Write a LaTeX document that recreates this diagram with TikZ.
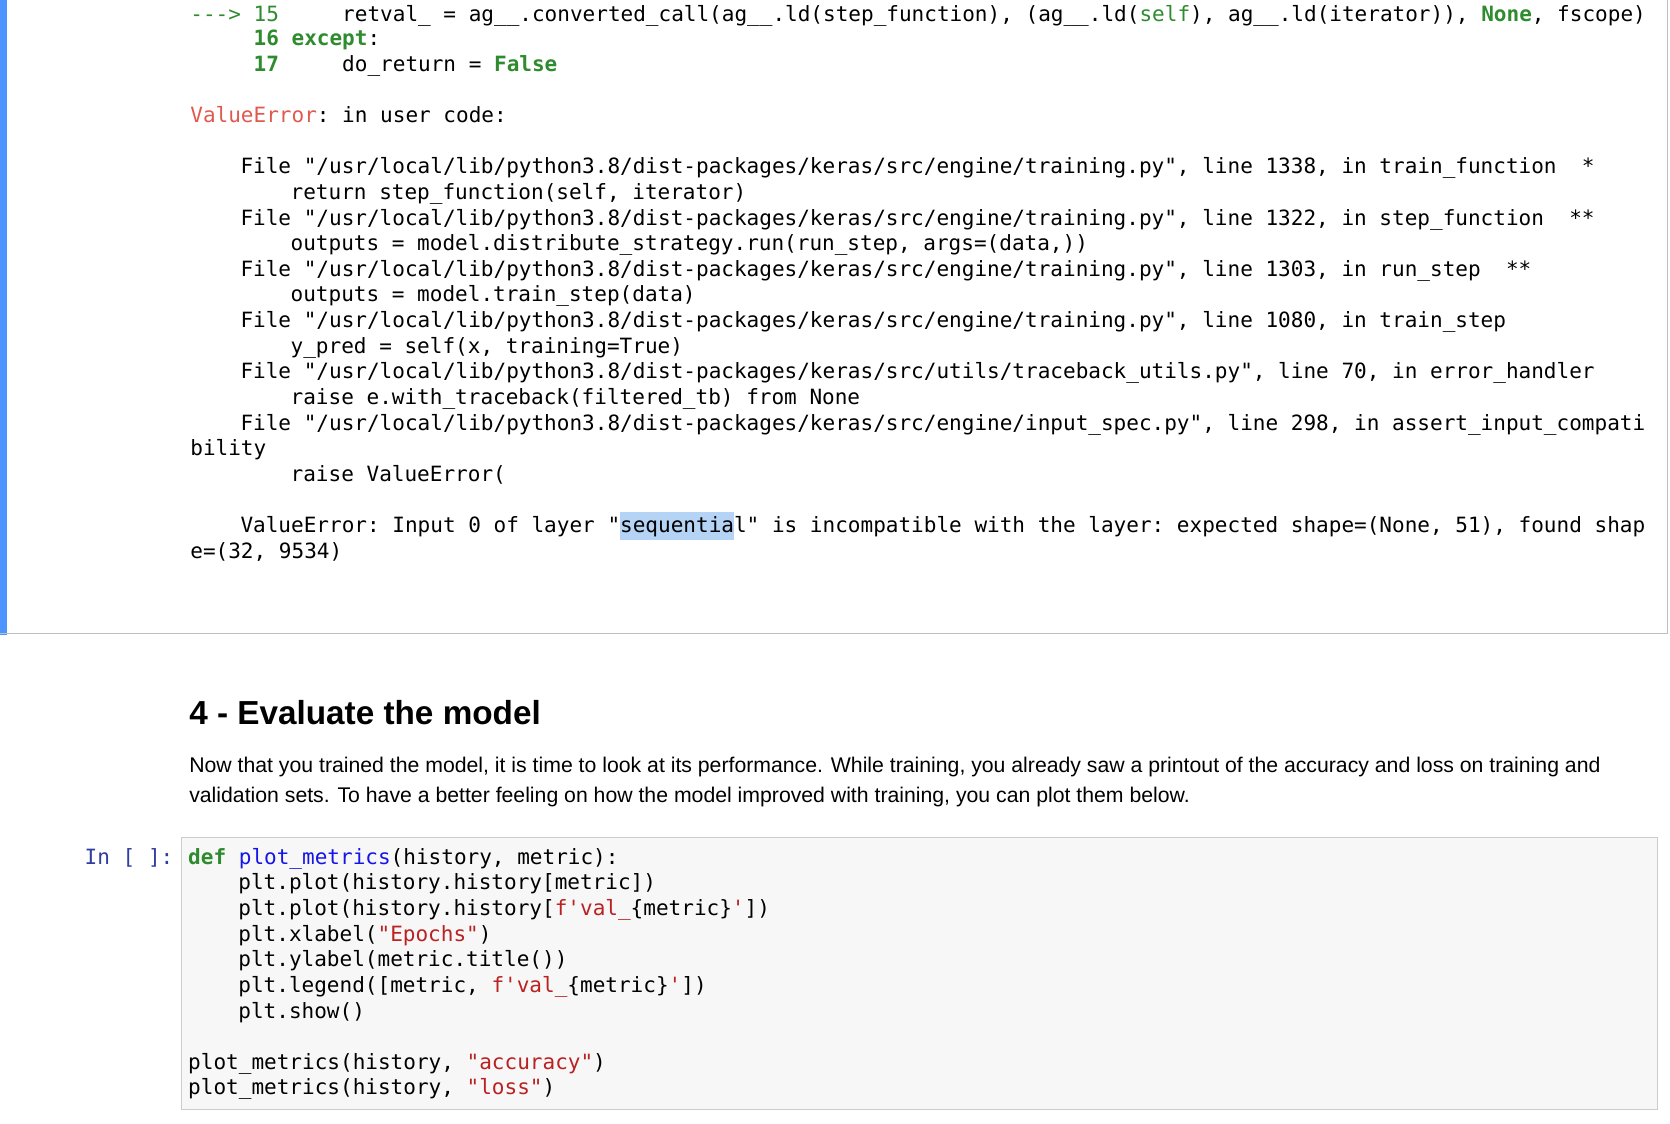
\documentclass[tikz,border=0pt]{standalone}
\usepackage{fontspec}
\setmainfont{Liberation Sans}
\setmonofont{DejaVu Sans Mono}
\definecolor{pygreen}{HTML}{2E8B2E}
\definecolor{errred}{HTML}{E0594F}
\definecolor{strred}{HTML}{BA2121}
\definecolor{fnblue}{HTML}{1515E8}
\definecolor{promptblue}{HTML}{303F9F}
\definecolor{selblue}{HTML}{B4D3F5}
\newcommand{\kw}[1]{\textcolor{pygreen}{\bfseries #1}}
\newcommand{\st}[1]{\textcolor{strred}{#1}}
\begin{document}
\begin{tikzpicture}[x=0.5pt,y=-0.5pt,
    codeline/.style={anchor=base west,inner sep=0pt,font=\ttfamily\fontsize{9.85}{12}\selectfont},
    textline/.style={anchor=base west,inner sep=0pt,font=\fontsize{9.95}{12}\selectfont}]
    \useasboundingbox (0,0) rectangle (1565,1053);

    % output cell
    \fill[blue!60!cyan!70] (0,0) rectangle (7,595);
    \draw[black!25] (1563,0) -- (1563,594) -- (0,594);
    \fill[selblue] (581,480) rectangle (688,506);

    \node[codeline] (t1) at (178,20) {\textcolor{pygreen}{--->~15}~~~~~retval\_ = ag\_\_.converted\_call(ag\_\_.ld(step\_function), (ag\_\_.ld(\textcolor{pygreen}{self}), ag\_\_.ld(iterator)), \kw{None}, fscope)};
    \node[codeline] (t2) at (178,43) {~~~~~\kw{16 except}:};
    \node[codeline] (t3) at (178,67) {~~~~~\kw{17}~~~~~do\_return = \kw{False}};
    \node[codeline] (t4) at (178,115) {\textcolor{errred}{ValueError}: in user code:};
    \node[codeline] (t5) at (225,163) {File "/usr/local/lib/python3.8/dist-packages/keras/src/engine/training.py", line 1338, in train\_function~~*};
    \node[codeline] (t6) at (272,187) {return step\_function(self, iterator)};
    \node[codeline] (t7) at (225,211) {File "/usr/local/lib/python3.8/dist-packages/keras/src/engine/training.py", line 1322, in step\_function~~**};
    \node[codeline] (t8) at (272,235) {outputs = model.distribute\_strategy.run(run\_step, args=(data,))};
    \node[codeline] (t9) at (225,259) {File "/usr/local/lib/python3.8/dist-packages/keras/src/engine/training.py", line 1303, in run\_step~~**};
    \node[codeline] (t10) at (272,283) {outputs = model.train\_step(data)};
    \node[codeline] (t11) at (225,307) {File "/usr/local/lib/python3.8/dist-packages/keras/src/engine/training.py", line 1080, in train\_step};
    \node[codeline] (t12) at (272,331) {y\_pred = self(x, training=True)};
    \node[codeline] (t13) at (225,355) {File "/usr/local/lib/python3.8/dist-packages/keras/src/utils/traceback\_utils.py", line 70, in error\_handler};
    \node[codeline] (t14) at (272,379) {raise e.with\_traceback(filtered\_tb) from None};
    \node[codeline] (t15) at (225,403) {File "/usr/local/lib/python3.8/dist-packages/keras/src/engine/input\_spec.py", line 298, in assert\_input\_compati};
    \node[codeline] (t16) at (178,427) {bility};
    \node[codeline] (t17) at (272,451) {raise ValueError(};
    \node[codeline] (t18) at (225,499) {ValueError: Input 0 of layer "sequential" is incompatible with the layer: expected shape=(None, 51), found shap};
    \node[codeline] (t19) at (178,523) {e=(32, 9534)};

    % markdown cell
    \node[anchor=base west,inner sep=0pt,font=\bfseries\fontsize{15.6}{18}\selectfont] (head) at (177,679) {4 - Evaluate the model};
    \node[textline] (p1) at (177,724) {Now that you trained the model, it is time to look at its performance. While training, you already saw a printout of the accuracy and loss on training and};
    \node[textline] (p2) at (177,752) {validation sets. To have a better feeling on how the model improved with training, you can plot them below.};

    % code cell
    \draw[black!20,fill=black!3] (170,785) rectangle (1553,1040);
    \node[codeline,text=promptblue] (prompt) at (79,810) {In [ ]:};
    \node[codeline] (c1) at (176,810) {\textcolor{pygreen}{\bfseries def} \textcolor{fnblue}{plot\_metrics}(history, metric):};
    \node[codeline] (c2) at (223,834) {plt.plot(history.history[metric])};
    \node[codeline] (c3) at (223,858) {plt.plot(history.history[\st{f'val\_}\{metric\}\st{'}])};
    \node[codeline] (c4) at (223,882) {plt.xlabel(\st{"Epochs"})};
    \node[codeline] (c5) at (223,906) {plt.ylabel(metric.title())};
    \node[codeline] (c6) at (223,930) {plt.legend([metric, \st{f'val\_}\{metric\}\st{'}])};
    \node[codeline] (c7) at (223,954) {plt.show()};
    \node[codeline] (c8) at (176,1002) {plot\_metrics(history, \st{"accuracy"})};
    \node[codeline] (c9) at (176,1026) {plot\_metrics(history, \st{"loss"})};
\end{tikzpicture}
\end{document}
